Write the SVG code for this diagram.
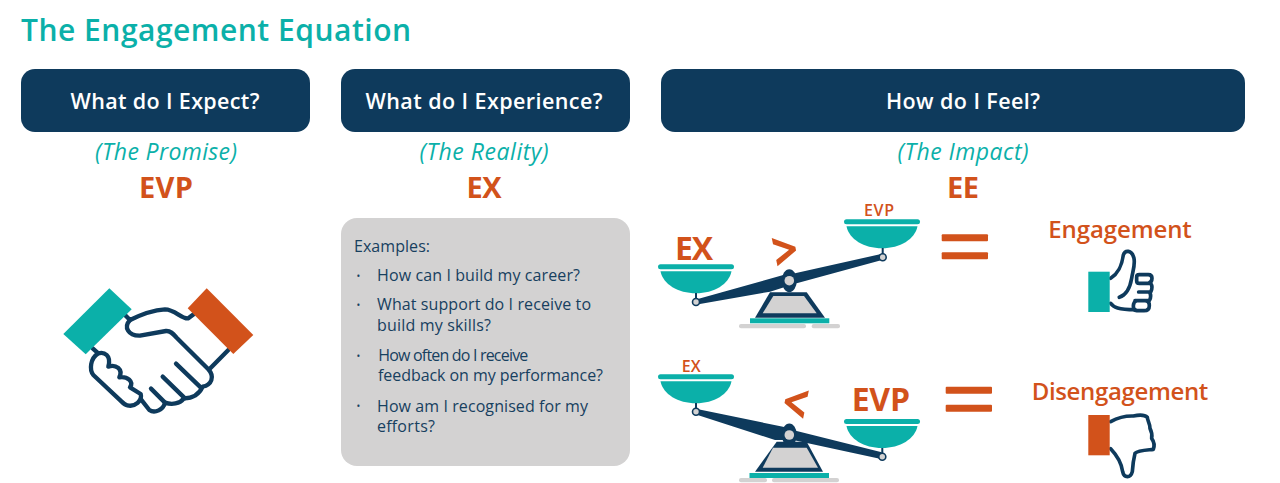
<svg xmlns="http://www.w3.org/2000/svg" xmlns:xlink="http://www.w3.org/1999/xlink" width="1280" height="483" viewBox="0 0 1280 483">
<style>
text{font-family:"Open Sans","Noto Sans","Liberation Sans",sans-serif}
.hd{fill:#0E3A5C}
.ht{fill:#fff;font-size:21.500px;font-weight:600;text-anchor:middle}
.it{fill:#0BB0A9;font-size:23px;font-style:italic;text-anchor:middle}
.or{fill:#D2521B;font-weight:600}
.ch{fill:#D2521B;font-weight:700}
.bl{fill:#17405F;font-size:16px}
.bu{fill:#17405F;font-size:10px;text-anchor:middle}
.teal{fill:#0BB0A9}.orange{fill:#D2521B}.navy{fill:#0E3A5C}.grey{fill:#D3D2D2}
.line{fill:none;stroke:#0E3A5C;stroke-linecap:round;stroke-linejoin:round}
.pin{fill:#D3D2D2;stroke:#0E3A5C;stroke-width:1.6}
</style>
<defs>
<g id="bowl"><rect x="-38" y="0" width="76" height="5" rx="2.500" class="teal"/><path d="M-35.500 7H35.500C33 20 18 29 0 29S-33 20-35.500 7Z" class="teal"/></g>
</defs>
<rect width="1280" height="483" fill="#fff"/>
<text id="title" x="21" y="40.500" font-size="30" font-weight="600" fill="#0BB0A9" textLength="390">The Engagement Equation</text>

<g id="col-expect">
<rect x="21" y="69" width="289" height="63" rx="14" class="hd"/>
<text x="165" y="108.800" class="ht" textLength="189">What do I Expect?</text>
<text x="166" y="160" class="it" textLength="142">(The Promise)</text>
<text x="166" y="198" class="ch" font-size="29" text-anchor="middle" textLength="54">EVP</text>
</g>
<g id="col-experience">
<rect x="341" y="69" width="289" height="63" rx="14" class="hd"/>
<text x="484" y="108.800" class="ht" textLength="237">What do I Experience?</text>
<text x="484" y="160" class="it" textLength="129">(The Reality)</text>
<text x="484" y="198" class="ch" font-size="29" text-anchor="middle" textLength="35">EX</text>
</g>
<g id="col-feel">
<rect x="661" y="69" width="584" height="63" rx="14" class="hd"/>
<text x="963" y="108.800" class="ht" textLength="154">How do I Feel?</text>
<text x="963" y="160" class="it" textLength="131">(The Impact)</text>
<text x="963" y="198" class="ch" font-size="29" text-anchor="middle" textLength="32">EE</text>
</g>

<g id="handshake">
<g transform="translate(40 270) scale(.3333)">
<path class="line" stroke-width="13" d="M255 135L270 150C300 135 345 120 375 118C405 118 425 148 445 145L462 132"/>
<path class="line" stroke-width="13" d="M270 150C250 172 265 198 300 197L378 183C392 182 400 192 410 203L505 298C525 320 515 345 488 350C478 372 460 385 432 385C420 402 395 405 375 398C370 418 345 432 328 420L303 388"/>
<path class="line" stroke-width="13" d="M508 298L565 240"/>
<path class="line" stroke-width="13" d="M408 281L482 352M368 320L435 385M333 356L375 398"/>
<path class="line" stroke-width="13" d="M158 235L175 250C192 245 215 255 205 290C228 282 250 298 238 322C262 318 282 335 270 352L302 372C308 392 285 412 262 406C255 405 250 400 245 395L160 315C148 300 150 265 175 250"/>
</g>
<polygon class="teal" points="63.300,334 109.300,288.300 131.700,309.300 85.700,354.300"/>
<polygon class="orange" points="187.700,308.300 206.700,288.300 253.300,335 233.300,354"/>
</g>

<g id="examples">
<rect x="341" y="218" width="289" height="248" rx="16" fill="#D3D2D2"/>
<text x="354" y="251.500" class="bl" textLength="76">Examples:</text>
<text x="358.300" y="279.500" class="bu">•</text>
<text x="377" y="280.500" class="bl" textLength="203">How can I build my career?</text>
<text x="358.300" y="308.500" class="bu">•</text>
<text x="377" y="310" class="bl" textLength="214">What support do I receive to</text>
<text x="377" y="331" class="bl" textLength="114">build my skills?</text>
<text x="358.300" y="359.500" class="bu">•</text>
<text x="378.300" y="360.500" class="bl" textLength="150">How often do I receive</text>
<text x="378" y="380.500" class="bl" textLength="225">feedback on my performance?</text>
<text x="358.300" y="410.200" class="bu">•</text>
<text x="377" y="411.500" class="bl" textLength="211">How am I recognised for my</text>
<text x="377" y="431.500" class="bl" textLength="58">efforts?</text>
</g>

<g id="scale-top">
<use xlink:href="#bowl" href="#bowl" x="696" y="264.300"/>
<use xlink:href="#bowl" href="#bowl" x="882" y="219.300"/>
<path d="M696 293V302M882.700 248V257" stroke="#0E3A5C" stroke-width="2"/>
<path d="M770 292.300L806.700 292.300L825 317.700L755 317.700Z" class="navy"/>
<path d="M773.300 296L804 296L816.700 313.300L762.700 313.300Z" class="grey"/>
<path class="navy" d="M696 299.500L783.300 275L795 273.300L880 254.300L882 260L796.700 283.300L770 291.700L697 304.500Z"/>
<ellipse cx="789.300" cy="280.700" rx="7.500" ry="11.500" class="navy"/>
<circle cx="789.300" cy="280.700" r="4.800" class="grey"/>
<circle cx="696" cy="302" r="3.500" class="pin"/>
<circle cx="882.700" cy="257.300" r="3.500" class="pin"/>
<rect x="750" y="318.300" width="79.300" height="5" class="teal"/>
<rect x="739" y="324" width="67" height="4.300" rx="2" class="grey"/>
<rect x="811.700" y="324" width="28.300" height="4.300" rx="2" class="grey"/>
<text x="675" y="260" class="ch" font-size="32" textLength="38">EX</text>
<text x="864" y="215.700" class="or" font-size="16" textLength="30">EVP</text>
<text x="0" y="16" class="ch" font-size="44" text-anchor="middle" transform="translate(785 250) rotate(-11.500) scale(1 1.250)">&gt;</text>
</g>

<g id="scale-bottom">
<use xlink:href="#bowl" href="#bowl" x="696" y="374.300"/>
<use xlink:href="#bowl" href="#bowl" x="882" y="419"/>
<path d="M696 403V412M882.300 448V457" stroke="#0E3A5C" stroke-width="2"/>
<path d="M776.700 441.700L806.700 441.700L823 471.700L755 471.700Z" class="navy"/>
<path d="M773 447.700L806.700 447.700L818 467.700L762.700 467.700Z" class="grey"/>
<path class="navy" d="M697 409L783 426.700L796.700 431L881.700 452.300L881 459L793 440L775 440L696 414.500Z"/>
<ellipse cx="789.300" cy="435" rx="7.500" ry="11.500" class="navy"/>
<circle cx="789.300" cy="435" r="4.800" class="grey"/>
<circle cx="696" cy="411.700" r="3.500" class="pin"/>
<circle cx="882.300" cy="456.700" r="3.500" class="pin"/>
<rect x="749.500" y="473" width="79.500" height="5" class="teal"/>
<rect x="739" y="478" width="28" height="4.300" rx="2" class="grey"/>
<rect x="772" y="478" width="67" height="4.300" rx="2" class="grey"/>
<text x="681.700" y="371.700" class="or" font-size="16" textLength="19">EX</text>
<text x="851.700" y="410.700" class="ch" font-size="32" textLength="58.300">EVP</text>
<text x="0" y="16" class="ch" font-size="44" text-anchor="middle" transform="translate(795.500 402.500) rotate(11.500) scale(1 1.250)">&lt;</text>
</g>

<g id="eq-top"><rect x="941.700" y="234.300" width="46.300" height="7" rx="1" class="orange"/><rect x="941.700" y="252.300" width="46.300" height="7" rx="1" class="orange"/></g>
<g id="eq-bottom"><rect x="945.700" y="386.700" width="46.300" height="7" rx="1" class="orange"/><rect x="945.700" y="404.700" width="46.300" height="7" rx="1" class="orange"/></g>

<g id="engagement">
<text x="1048.300" y="238" class="or" font-size="24" textLength="143.500">Engagement</text>
<g transform="translate(1020 210) scale(.3333)">
<path class="line" stroke-width="11" d="M272 205C295 190 305 170 310 135C315 120 335 118 342 145C346 165 338 185 335 205C330 235 320 255 298 262M272 280C280 292 295 299 345 299"/>
<path class="line" stroke-width="11" d="M350 200Q350 194 358 194H385Q396 194 396 205Q396 218 385 220H358Q350 220 350 212ZM358 220H392Q400 232 392 246H358M356 246H388Q396 258 388 272H350M345 272H375Q388 272 388 287Q388 302 372 302H350Q340 302 340 288Q340 276 350 272"/>
</g>
<rect x="1088.300" y="271.700" width="21.400" height="40.300" class="teal"/>
</g>

<g id="disengagement">
<text x="1031.700" y="399.500" class="or" font-size="24" textLength="176.600">Disengagement</text>
<g transform="translate(1020 370) scale(.3333)">
<path class="line" stroke-width="11" d="M272 155C290 145 310 137 340 138C355 135 375 135 382 142C382 152 390 160 390 175C395 185 397 195 395 205C402 215 405 225 400 238C385 240 355 240 345 250C340 270 338 290 337 305C332 325 312 325 308 305C305 280 290 255 272 236"/>
</g>
<rect x="1088.300" y="415" width="21.400" height="40.300" class="orange"/>
</g>
</svg>
